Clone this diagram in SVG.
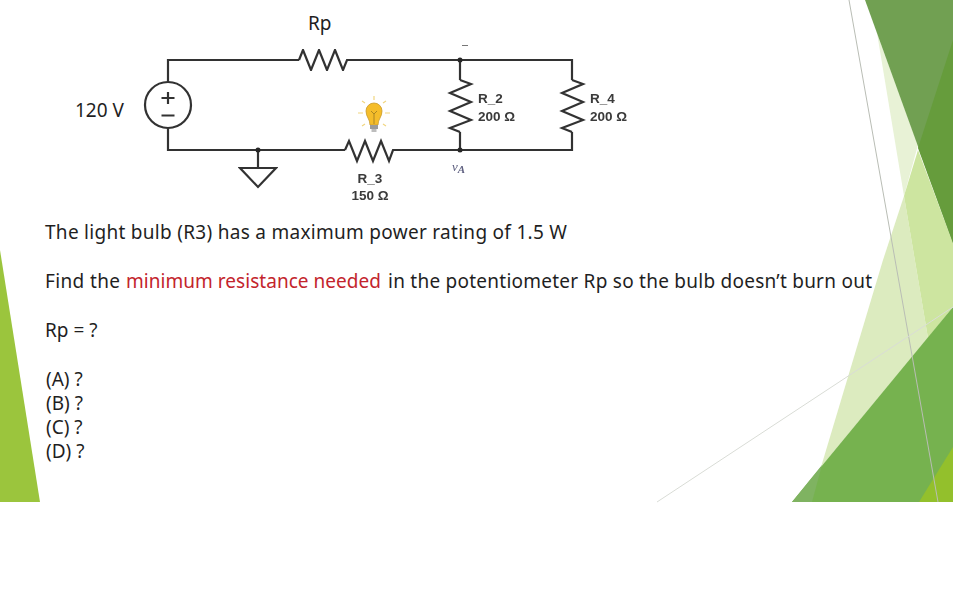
<svg xmlns="http://www.w3.org/2000/svg" width="953" height="604" viewBox="0 0 953 604">
<style>
.w{fill:none;stroke:#333;stroke-width:2.200;stroke-linejoin:miter}
.t{font-family:"Noto Sans","DejaVu Sans",sans-serif;font-size:19px;fill:#1f1f1f}
.l{font-family:"Liberation Sans",Arial,sans-serif;font-size:13.5px;font-weight:bold;fill:#3a3a3a}
.d{fill:#262626}
</style>
<defs><filter id="b" x="-5%" y="-5%" width="110%" height="110%"><feGaussianBlur stdDeviation="0.4"/></filter></defs>
<rect width="953" height="604" fill="#fff"/>
<g id="background">
<polygon points="0,250 40,502 0,502" fill="#9bc53d"/>
<polygon points="877,33 918,145 904,196" fill="#e8f2d6"/>
<polygon points="904,196 928,338 821,467 883,260" fill="#dcebbf"/>
<polygon points="904,196 918,150 953,243 953,307 928,338" fill="#cde5a0"/>
<polygon points="865,0 953,0 953,243" fill="#71a052"/>
<polygon points="953,40 953,243 918,148" fill="#669c3c"/>
<polygon points="953,307 792,502 953,502" fill="#76b24f"/>
<polygon points="792,502 822,465 812,502" fill="#7fb361"/>
<polygon points="919,502 953,447 953,502" fill="#93c02c"/>
<line x1="849" y1="0" x2="938" y2="502" stroke="#b9bdb5" stroke-width="1"/>
<line x1="657" y1="502" x2="953" y2="307" stroke="#d9dcd6" stroke-width="1"/>
</g>
<g id="connectors" filter="url(#b)">
<path class="w" d="M168 82V60H299M350 60H572V80M572 132V150H395M345 150H168V128"/>
<path class="w" d="M460 60V80M460 132V150M258 150V168"/>
</g>
<g id="source" filter="url(#b)">
<circle class="w" cx="168" cy="105" r="23"/>
<path class="w" d="M161.500 98H174.500M168 92V104M161.500 115.500H174.500"/>
</g>
<g id="label-120v"><text class="t" x="75" y="117">120 V</text></g>
<g id="Rp" filter="url(#b)">
<path class="w" d="M299 60L303 50L311 70L319 50L327 70L335 50L343 70L347 60H350"/>
</g>
<g id="label-Rp"><text class="t" x="308" y="30">Rp</text></g>
<g id="R2" filter="url(#b)">
<path class="w" d="M460 80L471 84L450 93L471 102L450 111L471 120L450 128L460 132"/>
<text class="l" x="478" y="103">R_2</text>
<text class="l" x="478" y="121">200 Ω</text>
</g>
<g id="R4" filter="url(#b)">
<path class="w" d="M572 80L583 84L562 93L583 102L562 111L583 120L562 128L572 132"/>
<text class="l" x="590" y="103">R_4</text>
<text class="l" x="590" y="121">200 Ω</text>
</g>
<g id="R3" filter="url(#b)">
<path class="w" d="M345 150L349 141L357 161L365 141L373 161L381 141L389 161L393 150H395"/>
<text class="l" x="370" y="183" text-anchor="middle">R_3</text>
<text class="l" x="370" y="200" text-anchor="middle">150 Ω</text>
</g>
<g id="bulb" filter="url(#b)">
<path d="M370 125C370 119 366 117 366 111A7.800 7.800 0 0 1 382 111C382 117 378 119 378 125Z" fill="#f5bd2c" stroke="#c99a2a" stroke-width="0.8"/>
<rect x="370" y="125" width="8" height="4" fill="#9b9b9b"/>
<rect x="371.500" y="129" width="5" height="3" fill="#bdbdbd"/>
<path d="M371 111L374 114L377 111M374 114V124" fill="none" stroke="#9a7a20" stroke-width="0.8"/>
<path d="M374 96V100M386 101L383 103M362 101L365 103M358 113H363M385 113H390M365 124L362 126M383 124L386 126" stroke="#f1d680" stroke-width="1.2" fill="none"/>
</g>
<g id="ground" filter="url(#b)">
<circle class="d" cx="258" cy="150" r="2.500"/>
<path class="w" d="M240 168H276L258 187Z"/>
</g>
<g id="node-top" filter="url(#b)"><circle class="d" cx="460" cy="60" r="2.500"/><path d="M462 45.500H468" stroke="#777" stroke-width="1"/></g>
<g id="node-vA" filter="url(#b)">
<circle class="d" cx="460" cy="150" r="2.500"/>
<text x="452" y="171" font-family="Liberation Serif,serif" font-style="italic" font-size="13" fill="#5f6080">v<tspan font-size="11" font-weight="bold" dy="1.500">A</tspan></text>
</g>
<g id="question">
<text class="t" x="45" y="239" textLength="522">The light bulb (R3) has a maximum power rating of 1.5 W</text>
<text class="t" x="45" y="288" textLength="75">Find the</text>
<text class="t" x="126" y="288" textLength="255" style="fill:#c3242c">minimum resistance needed</text>
<text class="t" x="388" y="288" textLength="484">in the potentiometer Rp so the bulb doesn’t burn out</text>
<text class="t" x="45" y="337">Rp = ?</text>
<text class="t" x="46" y="386">(A) ?</text>
<text class="t" x="46" y="410">(B) ?</text>
<text class="t" x="46" y="434">(C) ?</text>
<text class="t" x="46" y="458">(D) ?</text>
</g>
</svg>
